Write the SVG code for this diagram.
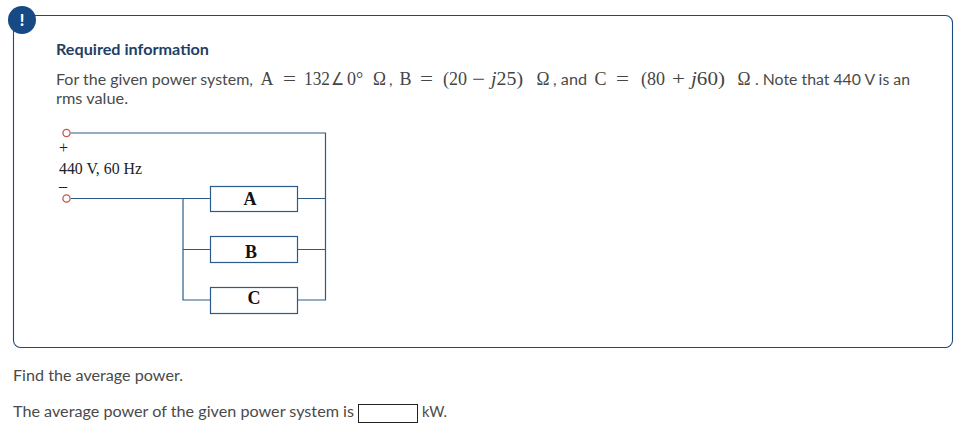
<svg xmlns="http://www.w3.org/2000/svg" width="964" height="427" viewBox="0 0 964 427">
<style>
.s{font-family:"Lato","Open Sans","Liberation Sans",sans-serif;font-size:15.500px;fill:#4a4a4a}
.m{font-family:"Liberation Serif","Times New Roman",serif;font-size:18px;fill:#454545}
.d{font-family:"Liberation Serif","Times New Roman",serif;font-size:16px;fill:#222}
.l{font-family:"Liberation Serif","Times New Roman",serif;font-size:18px;font-weight:bold;fill:#111;text-anchor:middle}
.w{fill:none;stroke:#2c5b8a;stroke-width:1.2}
.b{fill:#fff;stroke:#2c5b8a;stroke-width:1.2}
.t{fill:#fff;stroke:#c9534f;stroke-width:1.3}
</style>
<rect id="panel" x="13.500" y="15.500" width="939" height="332" rx="7" fill="#fff" stroke="#1b4a80" stroke-width="1.100"/>
<g id="badge"><circle cx="22" cy="20" r="14" fill="#174a85"/><text x="22" y="26" text-anchor="middle" style="font-family:'Lato','Liberation Sans',sans-serif;font-size:16px;font-weight:900;fill:#fff">!</text></g>
<text x="56" y="55" class="s" style="font-weight:700;fill:#1f3f66" textLength="153" lengthAdjust="spacingAndGlyphs">Required information</text>
<text x="56" y="85" class="s" textLength="197" lengthAdjust="spacingAndGlyphs">For the given power system,</text>
<text x="260.500" y="85" class="m">A</text><text x="283" y="85" class="m" textLength="13" lengthAdjust="spacingAndGlyphs">=</text><text x="304" y="85" class="m" textLength="26" lengthAdjust="spacingAndGlyphs">132</text><text x="331" y="85" class="m" textLength="13" lengthAdjust="spacingAndGlyphs">∠</text><text x="347" y="85" class="m">0°</text><text x="373" y="85" class="m" textLength="13" lengthAdjust="spacingAndGlyphs">Ω</text>
<text x="389" y="85" class="s">,</text>
<text x="399.500" y="85" class="m">B</text><text x="420" y="85" class="m" textLength="13" lengthAdjust="spacingAndGlyphs">=</text><text x="443" y="85" class="m">(20</text><text x="472" y="85" class="m" textLength="13" lengthAdjust="spacingAndGlyphs">−</text><text x="491" y="85" class="m" textLength="32" lengthAdjust="spacingAndGlyphs"><tspan font-style="italic">j</tspan>25)</text><text x="536.500" y="85" class="m" textLength="13" lengthAdjust="spacingAndGlyphs">Ω</text>
<text x="553" y="85" class="s" textLength="34" lengthAdjust="spacingAndGlyphs">, and</text>
<text x="594.500" y="85" class="m">C</text><text x="616" y="85" class="m" textLength="13" lengthAdjust="spacingAndGlyphs">=</text><text x="641" y="85" class="m">(80</text><text x="672" y="85" class="m" textLength="13" lengthAdjust="spacingAndGlyphs">+</text><text x="691" y="85" class="m" textLength="34" lengthAdjust="spacingAndGlyphs"><tspan font-style="italic">j</tspan>60)</text><text x="737.500" y="85" class="m" textLength="13" lengthAdjust="spacingAndGlyphs">Ω</text>
<text x="755" y="85" class="s" textLength="155" lengthAdjust="spacingAndGlyphs">. Note that 440 V is an</text>
<text x="56" y="104" class="s" textLength="72" lengthAdjust="spacingAndGlyphs">rms value.</text>
<g id="connectors">
<path class="w" d="M71 133H325.500V300H298M71 198.500H210.500M183 198.500V300H210.500M183 249.500H210.500M298 198.500H325.500M298 249.500H325.500"/>
</g>
<g id="terminal-top"><circle class="t" cx="66.500" cy="133" r="3.600"/><text x="59" y="153" class="d" style="fill:#222">+</text></g>
<g id="source-label"><text x="59" y="174" class="d" textLength="83" lengthAdjust="spacingAndGlyphs">440 V, 60 Hz</text></g>
<g id="terminal-bottom"><text x="59" y="191" class="d" style="fill:#222">–</text><circle class="t" cx="66.500" cy="198.500" r="3.600"/></g>
<g id="node-a"><rect class="b" x="210.500" y="186.500" width="87" height="25"/><text x="250" y="205" class="l">A</text></g>
<g id="node-b"><rect class="b" x="210.500" y="236.500" width="87" height="26"/><text x="251" y="258" class="l">B</text></g>
<g id="node-c"><rect class="b" x="210.500" y="287.500" width="87" height="26"/><text x="254" y="304" class="l">C</text></g>
<text x="13" y="381" class="s" textLength="170" lengthAdjust="spacingAndGlyphs">Find the average power.</text>
<text x="13" y="417" class="s" textLength="341" lengthAdjust="spacingAndGlyphs">The average power of the given power system is</text>
<rect id="answer" x="358.500" y="404.500" width="59" height="18" fill="#fff" stroke="#222" stroke-width="1"/>
<text x="422" y="417" class="s" textLength="25" lengthAdjust="spacingAndGlyphs">kW.</text>
</svg>
